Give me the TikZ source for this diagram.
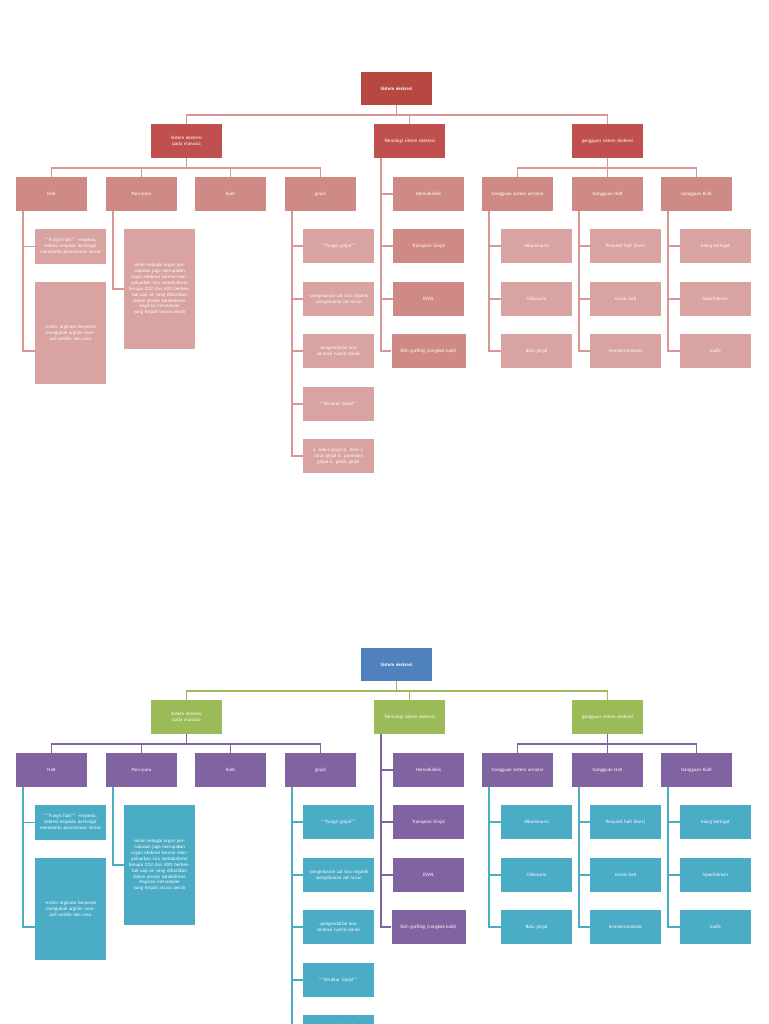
\documentclass[tikz,border=0pt]{standalone}
\usepackage{fontspec}
\setmainfont{Carlito}
\begin{document}
\begin{tikzpicture}[x=1pt,y=-1pt,
  bx/.style={inner sep=1pt,text=white,align=center,font=\fontsize{4.9}{5.9}\selectfont,text width=#1},
  bx/.default=66pt,
  ln/.style={line width=1.6pt}]
\useasboundingbox (0,0) rectangle (768,1024);
\clip (0,0) rectangle (768,1024);
\fill[white] (0,0) rectangle (768,1024);
\newcommand\mkbox[7]{\node[bx,fill=#6,minimum width={#4-#2},minimum height={#5-#3}] (#1) at ({(#2+#4)/2},{(#3+#5)/2}) {#7};}
\newcommand\chart[9]{%
\begin{scope}[yshift={-#2pt}]
\mkbox{#1root}{361}{72}{432}{105}{#3}{\textbf{Sistem ekskresi}}
\node[bx=58pt,fill=#4,minimum width=71pt,minimum height=34pt] (#1A) at (186.5,141) {Sistem ekskresi pada manusia};
\mkbox{#1B}{374}{124}{445}{158}{#4}{Teknologi sistem ekskresi}
\mkbox{#1C}{572}{124}{643}{158}{#4}{gangguan sistem ekskresi}
\foreach \n in {A,B,C}{\draw[ln,#7] (#1\n.north) -- ++(0,-9) -| (#1root.south);}
\mkbox{#1A1}{16}{177}{87}{211}{#5}{Hati}
\mkbox{#1A2}{106}{177}{177}{211}{#5}{Paru-paru}
\mkbox{#1A3}{195}{177}{266}{211}{#5}{Kulit}
\mkbox{#1A4}{285}{177}{356}{211}{#5}{ginjal}
\foreach \n in {A1,A2,A3,A4}{\draw[ln,#8] (#1\n.north) -- ++(0,-9) -| (#1A.south);}
\mkbox{#1C1}{482}{177}{553}{211}{#5}{Gangguan sistem urinaria}
\mkbox{#1C2}{572}{177}{643}{211}{#5}{Gangguan Hati}
\mkbox{#1C3}{661}{177}{732}{211}{#5}{Gangguan Kulit}
\foreach \n in {C1,C2,C3}{\draw[ln,#8] (#1\n.north) -- ++(0,-9) -| (#1C.south);}
\mkbox{#1B1}{393}{177}{464}{211}{#5}{Hemodialisis}
\mkbox{#1B2}{393}{229}{464}{263}{#5}{Transplasi Ginjal}
\mkbox{#1B3}{393}{282}{464}{316}{#5}{ESWL}
\node[bx=72pt,fill=#5,minimum width=71pt,minimum height=34pt] (#1B4) at (428.5,351) {Skin grafting (cangkok kulit)};
\foreach \n in {B1,B2,B3,B4}{\draw[ln,#8] ([xshift=7pt]#1B.south west) |- (#1\n.west);}
\mkbox{#1H1}{35}{229}{106}{264}{#6}{**Fungsi hati** -empedu, sekresi empedu berfungsi membantu pencernaan lemak}
\mkbox{#1H2}{35}{282}{106}{384}{#6}{-enzim arginase berperan mengubah arginin menjadi ornitin dan urea}
\draw[ln,#9] ([xshift=7pt]#1A1.south west) |- (#1H1.west);
\draw[ln,#9] ([xshift=7pt]#1A1.south west) |- ([yshift=-18pt]#1H2.west);
\mkbox{#1P1}{124}{229}{195}{349}{#6}{selain sebagai organ pernapasan juga merupakan organ ekskresi karena mengeluarkan sisa metabolisme berupa CO2 dan H2O berbentuk uap air yang dihasilkan dalam proses katabolisme respirasi intraseluler yang terjadi secara aerob}
\draw[ln,#9] ([xshift=7pt]#1A2.south west) |- (#1P1.west);
\mkbox{#1G1}{303}{229}{374}{263}{#6}{**Fungsi ginjal**}
\mkbox{#1G2}{303}{282}{374}{316}{#6}{-pengeluaran zat sisa organik -pengeluaran zat racun}
\mkbox{#1G3}{303}{334}{374}{368}{#6}{-pengendalian konsentrasi nutrisi darah}
\mkbox{#1G4}{303}{387}{374}{421}{#6}{**Struktur Ginjal**}
\mkbox{#1G5}{303}{439}{374}{473}{#6}{a. lobus ginjal b. hilus c. sinus ginjal d. parenkim ginjal e. pelvis ginjal}
\foreach \n in {G1,G2,G3,G4,G5}{\draw[ln,#9] ([xshift=7pt]#1A4.south west) |- (#1\n.west);}
\mkbox{#1U1}{501}{229}{572}{263}{#6}{Albuminuria}
\mkbox{#1U2}{501}{282}{572}{316}{#6}{Glikosuria}
\mkbox{#1U3}{501}{334}{572}{368}{#6}{Batu ginjal}
\mkbox{#1L1}{590}{229}{661}{263}{#6}{Penyakit hati (liver)}
\mkbox{#1L2}{590}{282}{661}{316}{#6}{sirosis hati}
\mkbox{#1L3}{590}{334}{661}{368}{#6}{hemokromatosis}
\mkbox{#1K1}{680}{229}{751}{263}{#6}{biang keringat}
\mkbox{#1K2}{680}{282}{751}{316}{#6}{hiperhidrosis}
\mkbox{#1K3}{680}{334}{751}{368}{#6}{kudis}
\foreach \n in {1,2,3}{
 \draw[ln,#9] ([xshift=7pt]#1C1.south west) |- (#1U\n.west);
 \draw[ln,#9] ([xshift=7pt]#1C2.south west) |- (#1L\n.west);
 \draw[ln,#9] ([xshift=7pt]#1C3.south west) |- (#1K\n.west);}
\end{scope}}
\definecolor{r0}{HTML}{B64741}\definecolor{r1}{HTML}{C0504D}
\definecolor{r2}{HTML}{D08A86}\definecolor{r3}{HTML}{D8A3A1}
\definecolor{rl}{HTML}{D99694}
\definecolor{b0}{HTML}{4F81BD}\definecolor{b1}{HTML}{9BBB59}
\definecolor{b2}{HTML}{8064A2}\definecolor{b3}{HTML}{4BACC6}
\chart{t}{0}{r0}{r1}{r2}{r3}{rl}{rl}{rl}
\chart{u}{576}{b0}{b1}{b2}{b3}{b1}{b2}{b3}
\end{tikzpicture}
\end{document}
